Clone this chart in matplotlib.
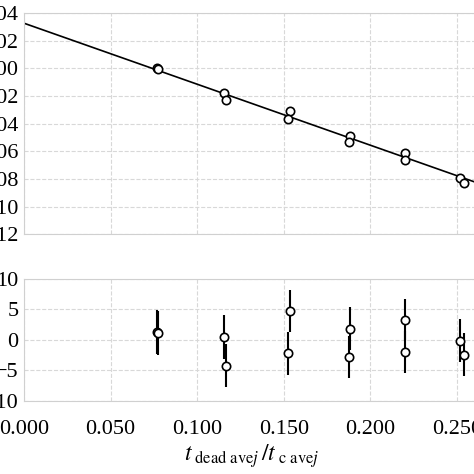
import matplotlib
matplotlib.use('Agg')
import matplotlib.pyplot as plt
import numpy as np

plt.rcParams['font.family'] = ['Liberation Serif', 'DejaVu Serif']
plt.rcParams['mathtext.fontset'] = 'stix'

# === DATA ===
x_pts = [0.0768, 0.0775, 0.1153, 0.1165, 0.1534, 0.1526, 0.1880, 0.1875, 0.2197, 0.2197, 0.2520, 0.2543]
y_top = [0.0003, -0.0003, -0.0180, -0.0227, -0.0307, -0.0368, -0.0488, -0.0531, -0.0614, -0.0665, -0.0792, -0.0828]
y_bot = [1.3, 1.2, 0.4, -4.2, 4.7, -2.2, 1.8, -2.8, 3.25, -2.0, -0.15, -2.4]
err_bot = [3.6, 3.6, 3.6, 3.5, 3.4, 3.5, 3.5, 3.5, 3.5, 3.5, 3.5, 3.5]
fit_x = [0.0, 0.2627]
fit_y = [0.0328, -0.0833]

top_ticks = [0.04, 0.02, 0.00, -0.02, -0.04, -0.06, -0.08, -0.10, -0.12]
bot_ticks = [10, 5, 0, -5, -10]
x_ticks = [0.0, 0.05, 0.10, 0.15, 0.20, 0.25]

fig = plt.figure(figsize=(4.74, 4.74), dpi=100)
ax1 = fig.add_axes([0.0506, 0.506, 0.96, 0.466])
ax2 = fig.add_axes([0.0506, 0.154, 0.96, 0.258])

for ax in (ax1, ax2):
    ax.set_xlim(0, 0.2627)
    ax.set_xticks(x_ticks)
    ax.grid(True, color='#d8d8d8', linestyle='--', linewidth=0.8)
    ax.set_axisbelow(True)
    for s in ax.spines.values():
        s.set_color('#d0d0d0')
    ax.tick_params(length=0, labelsize=16, pad=4)

ax1.plot(fit_x, fit_y, color='black', linewidth=1.2)
ax1.errorbar(x_pts, y_top, yerr=0.002, fmt='o', mfc='white', mec='black',
             ecolor='black', ms=6, mew=1.2, elinewidth=1.5, capsize=0)
ax1.set_ylim(-0.12, 0.04)
ax1.set_yticks(top_ticks)
ax1.set_yticklabels(['%.2f' % v for v in top_ticks])
ax1.tick_params(labelbottom=False)

ax2.errorbar(x_pts, y_bot, yerr=err_bot, fmt='o', mfc='white', mec='black',
             ecolor='black', ms=6, mew=1.2, elinewidth=1.5, capsize=0)
ax2.set_ylim(-10, 10)
ax2.set_yticks(bot_ticks)
ax2.set_xticklabels(['%.3f' % v for v in x_ticks])
ax2.tick_params(axis='x', pad=14)
ax2.set_xlabel(r'$t_{\ \mathrm{dead\ ave}j}\,/t_{\ \mathrm{c\ ave}j}$', fontsize=17, labelpad=2)

fig.savefig('out.png', dpi=100)
